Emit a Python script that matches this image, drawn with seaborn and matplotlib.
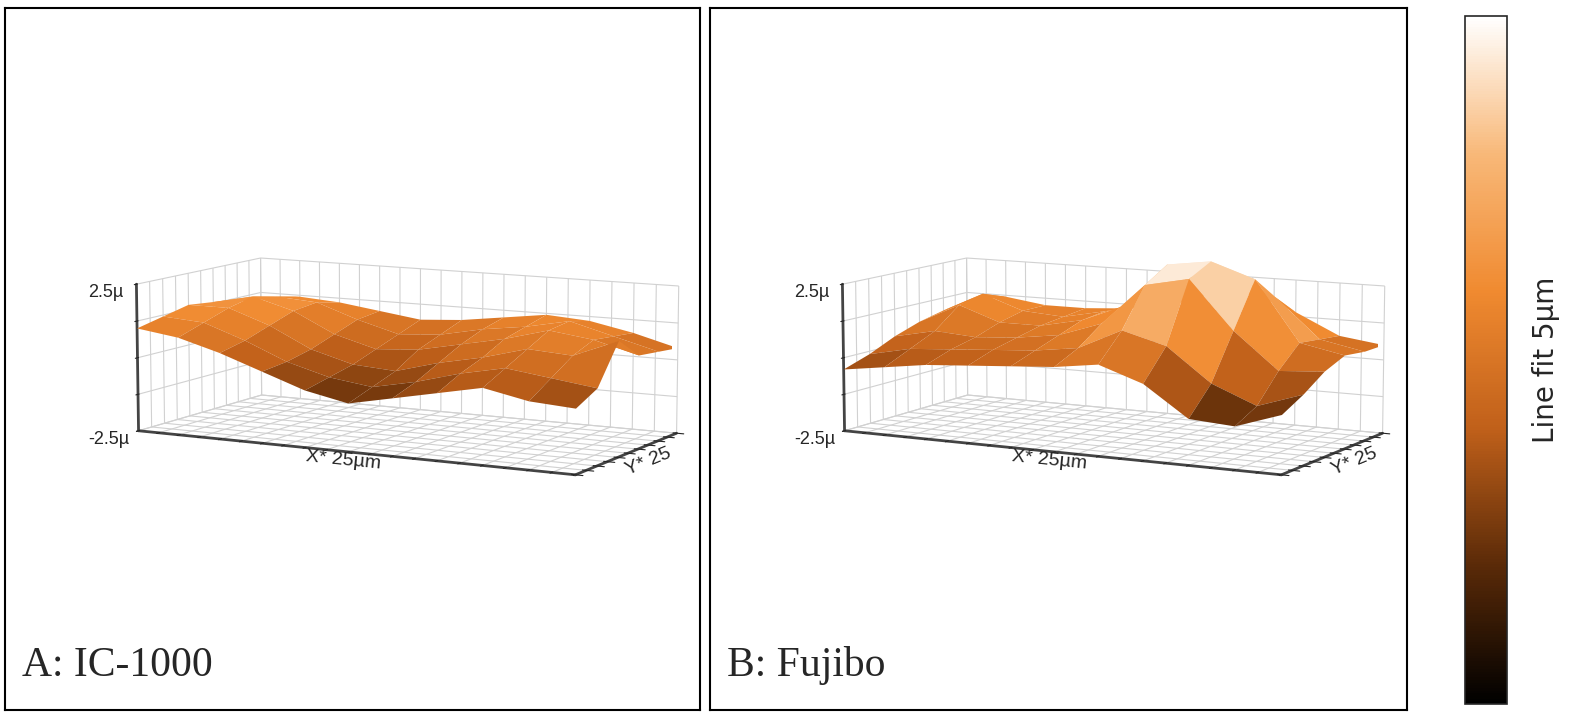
import numpy as np
import matplotlib
matplotlib.use("Agg")
import matplotlib.pyplot as plt
import seaborn as sns
from matplotlib.colors import LinearSegmentedColormap

sns.set_style("white")

# Heights (µm) on a coarse grid, rows = Y (front -> back), cols = X (left -> right)
x_um = [0, 2.5, 5, 7.5, 10, 12.5, 15, 17.5, 20, 22.5, 25]
y_um = [0, 5, 10, 15, 20, 25]

heights_a = [
    [1.0, 0.8, 0.4, -0.1, -0.6, -0.9, -0.6, -0.3, 0.0, -0.3, -0.4],
    [1.2, 1.1, 0.6, 0.0, -0.4, -0.6, -0.3, 0.1, 0.4, 0.2, 0.0],
    [1.4, 1.4, 0.9, 0.2, -0.2, -0.3, 0.1, 0.4, 0.8, 0.7, 1.3],
    [1.3, 1.6, 1.2, 0.5, 0.1, 0.2, 0.5, 0.8, 1.2, 1.0, 0.6],
    [1.1, 1.4, 1.3, 0.8, 0.4, 0.5, 0.8, 1.0, 1.3, 0.9, 0.5],
    [1.0, 1.2, 1.1, 0.9, 0.7, 0.8, 1.0, 1.2, 1.1, 0.8, 0.4],
]

heights_b = [
    [-0.4, -0.2, 0.0, 0.1, 0.2, 0.3, 0.5, 0.0, -1.0, -1.1, -0.6],
    [-0.1, 0.2, 0.3, 0.4, 0.5, 0.7, 1.4, 1.0, -0.1, -0.7, -0.2],
    [0.3, 0.6, 0.5, 0.6, 0.8, 1.3, 2.7, 3.0, 1.4, 0.2, 0.3],
    [0.6, 1.3, 0.8, 0.8, 1.1, 1.7, 3.2, 3.4, 2.9, 0.9, 0.6],
    [0.8, 1.5, 1.0, 0.9, 1.2, 1.6, 2.6, 2.8, 2.1, 0.8, 0.5],
    [0.9, 1.2, 1.0, 1.0, 1.1, 1.3, 1.8, 1.9, 1.4, 0.7, 0.5],
]

panel_labels = ["A: IC-1000", "B: Fujibo"]
colorbar_label = "Line fit 5µm"

cmap = LinearSegmentedColormap.from_list(
    "afm", ["#000000", "#5a2a08", "#c0601a", "#f08a30", "#f8b878", "#ffffff"])
vmin, vmax = -2.0, 3.4

fig = plt.figure(figsize=(15.7, 7.18), dpi=100)

frames = [(5 / 1570, 8 / 718, 695 / 1570, 702 / 718),
          (710 / 1570, 8 / 718, 697 / 1570, 702 / 718)]
X, Y = np.meshgrid(x_um, y_um)

for frame, h, lab in zip(frames, [heights_a, heights_b], panel_labels):
    box = fig.add_axes(frame)
    box.set_xticks([]); box.set_yticks([])
    for s in box.spines.values():
        s.set_color("black"); s.set_linewidth(1.5)
    box.text(0.025, 0.035, lab, transform=box.transAxes, fontsize=30,
             family="Liberation Serif", va="bottom")

    l, b, w, hh = frame
    ax = fig.add_axes([l + 0.03, b + 0.1, w, hh - 0.22], projection="3d")
    ax.set_facecolor("none")
    Z = np.array(h)
    ax.plot_surface(X, Y, Z, cmap=cmap, vmin=vmin, vmax=vmax,
                    rstride=1, cstride=1, linewidth=0, antialiased=True, shade=True)
    ax.set_xlim(0, 25); ax.set_ylim(0, 25); ax.set_zlim(-2.5, 2.5)
    ax.view_init(elev=9, azim=-62)
    ax.set_box_aspect((2.6, 1.3, 0.8))
    ax.set_xticks(np.arange(0, 25.1, 1.25)); ax.set_xticklabels([])
    ax.set_yticks(np.arange(0, 25.1, 2.5)); ax.set_yticklabels([])
    ax.set_zticks([-2.5, -1.25, 0, 1.25, 2.5])
    ax.zaxis.set_ticks_position("lower")
    ax.set_zticklabels(["-2.5µ", "", "", "", "2.5µ"], fontsize=13,
                       family="Liberation Sans")
    ax.tick_params(axis="x", length=0)
    ax.tick_params(axis="y", length=0)
    ax.set_xlabel("X* 25µm", fontsize=14, labelpad=-12, family="Liberation Sans")
    ax.set_ylabel("Y* 25", fontsize=14, labelpad=-12, family="Liberation Sans")
    for a in (ax.xaxis, ax.yaxis, ax.zaxis):
        a.set_pane_color((1, 1, 1, 0))
        a._axinfo["grid"]["color"] = (0.82, 0.82, 0.82, 1)
        a._axinfo["grid"]["linewidth"] = 0.8
        a.line.set_color("#444444")
        a.line.set_linewidth(2)

cax = fig.add_axes([1465 / 1570, 14 / 718, 42 / 1570, 688 / 718])
sm = plt.cm.ScalarMappable(cmap=cmap, norm=plt.Normalize(vmin, vmax))
cb = fig.colorbar(sm, cax=cax)
cb.set_ticks([])
cb.outline.set_linewidth(1.2)
cb.ax.set_ylabel(colorbar_label, fontsize=20)
cb.ax.yaxis.set_label_coords(1.6, 0.5)

fig.savefig("out.png", dpi=100)
